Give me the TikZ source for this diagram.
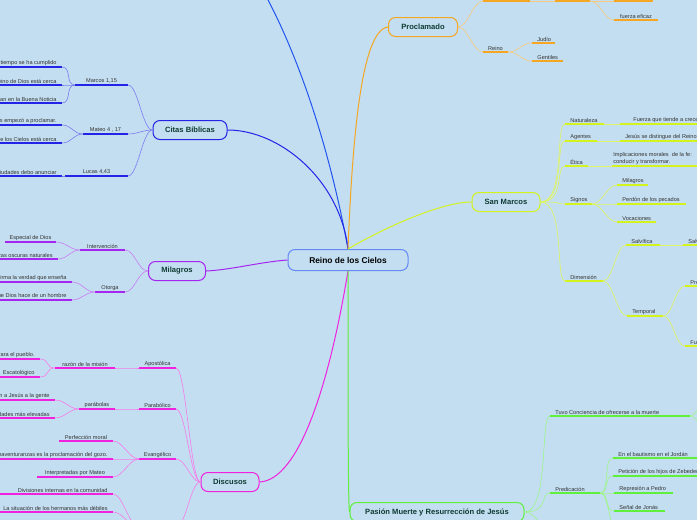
\documentclass[tikz,border=0pt]{standalone}
\usepackage{fontspec}
\setmainfont{Liberation Sans}
\definecolor{bg}{HTML}{C3DEF0}
\definecolor{kb}{HTML}{2424E8}
\definecolor{kbt}{HTML}{2255F0}
\definecolor{kmil}{HTML}{A526F0}
\definecolor{kdis}{HTML}{F022E0}
\definecolor{kg}{HTML}{5EF03A}
\definecolor{ky}{HTML}{D4F21E}
\definecolor{ko}{HTML}{F5A623}
\definecolor{tx}{HTML}{333333}
\definecolor{tb}{HTML}{0E3B33}
\newcommand\tp[6]{\coordinate (#1-l) at (#2,#4);\coordinate (#1-r) at (#3,#4);
 \draw[#5,line width=1.6pt] (#1-l) -- (#1-r);
 \node[lbl,anchor=south] (#1) at ({(#2+#3)/2},#4) {#6};}
\newcommand\tpr[6]{\coordinate (#1-l) at (#2,#4);\coordinate (#1-r) at (#3,#4);
 \draw[#5,line width=1.6pt] (#1-l) -- (#1-r);
 \node[lbl,anchor=south east] (#1) at ({#3-4},#4) {#6};}
\newcommand\tpl[6]{\coordinate (#1-l) at (#2,#4);\coordinate (#1-r) at (#3,#4);
 \draw[#5,line width=1.6pt] (#1-l) -- (#1-r);
 \node[lbl,anchor=south west] (#1) at ({#2+4},#4) {#6};}
\newcommand\conR[3]{\draw[#3,line width=0.6pt] (#1) .. controls +(10,0) and +(-10,0) .. (#2);}
\newcommand\conL[3]{\draw[#3,line width=0.6pt] (#1) .. controls +(-10,0) and +(10,0) .. (#2);}
\begin{document}
\begin{tikzpicture}[x=1pt,y=-1pt,
  lbl/.style={font=\fontsize{5.6}{6.8}\selectfont,text=tx,inner sep=1.2pt},
  box/.style={draw,line width=1pt,rounded corners=7pt,fill=bg,text=tb,font=\fontsize{7.6}{9}\selectfont\bfseries,minimum height=19pt,inner sep=2pt}]
\fill[bg] (0,0) rectangle (697,520);
\clip (0,0) rectangle (697,520);
% center
\node[box,draw=kbt!70!white,text=black,minimum width=120pt,minimum height=21pt,font=\fontsize{8.4}{10}\selectfont\bfseries] (c) at (348,260) {Reino de los Cielos};
\node[box,draw=kb,minimum width=74pt] (cit) at (190,130) {Citas Bíblicas};
\node[box,draw=kmil,minimum width=57pt] (mil) at (177,271) {Milagros};
\node[box,draw=kdis,minimum width=58pt] (dis) at (230,482) {Discusos};
\node[box,draw=ko,minimum width=69pt] (pro) at (423,27) {Proclamado};
\node[box,draw=ky,minimum width=68pt] (sm) at (506,202) {San Marcos};
\node[box,draw=kg,minimum width=174pt] (pas) at (437,512) {Pasión Muerte y Resurrección de Jesús};
\coordinate (top) at (266,-4);
% center connectors
\draw[kbt,line width=1pt] (c.north) .. controls (330,150) and (300,60) .. (top);
\draw[kb,line width=1pt] (c.north) .. controls (340,180) and (280,130) .. (cit.east);
\draw[kmil,line width=1pt] (c.west) .. controls (260,262) and (230,270) .. (mil.east);
\draw[kdis,line width=1pt] (c.south) .. controls (330,380) and (300,480) .. (dis.east);
\draw[ko,line width=1pt] (c.north) .. controls (352,150) and (360,30) .. (pro.west);
\draw[ky,line width=1pt] (c.north) .. controls (380,230) and (440,202) .. (sm.west);
\draw[kg,line width=1pt] (c.south) .. controls (348,400) and (348,500) .. (pas.west);
% Citas
\tp{mar}{75}{128}{85}{kb}{Marcos 1,15}
\tpr{m1}{0}{62}{67}{kb}{El tiempo se ha cumplido}
\tpr{m2}{0}{62}{85}{kb}{El Reino de Dios está cerca}
\tpr{m3}{0}{62}{103}{kb}{Crean en la Buena Noticia}
\tp{mat}{83}{128}{134}{kb}{Mateo 4 , 17}
\tpr{t1}{0}{62}{125}{kb}{Jesús empezó a proclamar.}
\tpr{t2}{0}{62}{143}{kb}{El Reino de los Cielos está cerca}
\tp{luc}{65}{128}{176}{kb}{Lucas 4,43}
\tpr{l1}{0}{62}{176}{kb}{También a otras ciudades debo anunciar}
\foreach \a in {mar,mat,luc}{\conL{cit.west}{\a-r}{kb!60!white}}
\foreach \a in {m1,m2,m3}{\conL{mar-l}{\a-r}{kb!60!white}}
\foreach \a in {t1,t2}{\conL{mat-l}{\a-r}{kb!60!white}}
\conL{luc-l}{l1-r}{kb!60!white}
% Milagros
\tp{int}{80}{125}{250}{kmil}{Intervención}
\tp{i1}{5}{56}{242}{kmil}{Especial de Dios}
\tpr{i2}{0}{58}{259}{kmil}{Fuerzas oscuras naturales}
\tp{oto}{95}{125}{292}{kmil}{Otorga}
\tpr{o1}{0}{72}{282}{kmil}{Confirma la verdad que enseña}
\tpr{o2}{0}{72}{300}{kmil}{Lo que Dios hace de un hombre}
\foreach \a in {int,oto}{\conL{mil.west}{\a-r}{kmil!60!white}}
\foreach \a in {i1,i2}{\conL{int-l}{\a-r}{kmil!60!white}}
\foreach \a in {o1,o2}{\conL{oto-l}{\a-r}{kmil!60!white}}
% Discusos
\tp{apo}{139}{176}{368}{kdis}{Apostólica}
\tp{par}{139}{176}{409}{kdis}{Parabólico}
\tp{eva}{139}{176}{459}{kdis}{Evangélico}
\tp{ecl}{139}{176}{527}{kdis}{Eclesiástico}
\tp{raz}{55}{115}{368}{kdis}{razón de la misión}
\tpr{r1}{0}{40}{359}{kdis}{Para el pueblo.}
\tpr{r2}{0}{40}{377}{kdis}{Escatológico}
\tp{pab}{79}{115}{409}{kdis}{parábolas}
\tpr{p1}{0}{55}{400}{kdis}{Acercan a Jesús a la gente}
\tpr{p2}{0}{55}{418}{kdis}{Verdades más elevadas}
\tp{e1}{59}{113}{441}{kdis}{Perfección moral}
\tpr{e2}{0}{113}{459}{kdis}{Las bienaventuranzas es la proclamación del gozo.}
\tp{e3}{37}{113}{477}{kdis}{Interpretadas por Mateo}
\tpr{c1}{0}{113}{494}{kdis}{Divisiones internas en la comunidad}
\tpr{c2}{0}{113}{512}{kdis}{La situación de los hermanos más débiles}
\foreach \a in {apo,par,eva,ecl}{\conL{dis.west}{\a-r}{kdis!60!white}}
\conL{apo-l}{raz-r}{kdis!60!white}
\conL{par-l}{pab-r}{kdis!60!white}
\foreach \a in {r1,r2}{\conL{raz-l}{\a-r}{kdis!60!white}}
\foreach \a in {p1,p2}{\conL{pab-l}{\a-r}{kdis!60!white}}
\foreach \a in {e1,e2,e3}{\conL{eva-l}{\a-r}{kdis!60!white}}
\foreach \a in {c1,c2}{\conL{ecl-l}{\a-r}{kdis!60!white}}
% Proclamado
\tp{pa}{483}{530}{1}{ko}{Jesús}
\tp{pb}{555}{590}{1}{ko}{Palabra}
\tp{pc}{614}{653}{1}{ko}{Poder}
\tp{pd}{614}{658}{20}{ko}{fuerza eficaz}
\tp{rei}{483}{508}{52}{ko}{Reino}
\tpl{ju}{532}{555}{43}{ko}{Judío}
\tpl{ge}{532}{563}{61}{ko}{Gentiles}
\foreach \a in {pa,rei}{\conR{pro.east}{\a-l}{ko!60!white}}
\draw[ko!60!white,line width=0.6pt] (pa-r) -- (pb-l) (pb-r) -- (pc-l);
\conR{pb-r}{pd-l}{ko!60!white}
\foreach \a in {ju,ge}{\conR{rei-r}{\a-l}{ko!60!white}}
% San Marcos
\tpl{nat}{565}{604}{124}{ky}{Naturaleza}
\tpl{n1}{620}{720}{124}{ky}{\hspace*{8pt}Fuerza que tiende a crecer}
\tpl{age}{565}{597}{141}{ky}{Agentes}
\tpl{a1}{620}{720}{141}{ky}{Jesús se distingue del Reino}
\tpl{eti}{565}{588}{166}{ky}{Ética}
\coordinate (et1-l) at (612,166);\coordinate (et1-r) at (720,166);
\draw[ky,line width=1.6pt] (et1-l) -- (et1-r);
\node[lbl,anchor=south west,align=left] (et1) at (612,166) {Implicaciones morales \ de la fe:\\conducir y transformar.};
\tpl{sig}{565}{592}{204}{ky}{Signos}
\tpl{s1}{617}{648}{185}{ky}{Milagros}
\tpl{s2}{617}{686}{204}{ky}{Perdón de los pecados}
\tpl{s3}{617}{656}{222}{ky}{Vocaciones}
\tpl{dim}{565}{603}{281}{ky}{Dimensión}
\tpl{sal}{626}{660}{245}{ky}{Salvífica}
\tpl{sa1}{683}{720}{245}{ky}{Salvación}
\tpl{tem}{627}{663}{316}{ky}{Temporal}
\tpl{te1}{685}{720}{286}{ky}{Presente}
\tpl{te2}{685}{720}{346}{ky}{Futuro}
\foreach \a in {nat,age,eti,sig,dim}{\draw[ky!70!white,line width=0.6pt] (sm.east) .. controls +(25,0) and +(-10,0) .. (\a-l);}
\draw[ky!70!white,line width=0.6pt] (nat-r) -- (n1-l) (age-r) -- (a1-l) (eti-r) -- (et1-l) (sal-r) -- (sa1-l);
\foreach \a in {s1,s2,s3}{\conR{sig-r}{\a-l}{ky!70!white}}
\foreach \a in {sal,tem}{\conR{dim-r}{\a-l}{ky!70!white}}
\foreach \a in {te1,te2}{\conR{tem-r}{\a-l}{ky!70!white}}
% Pasion
\tpl{tuv}{550}{690}{416}{kg}{Tuvo Conciencia de ofrecerse a la muerte}
\coordinate (tu1) at (712,388);\coordinate (tu2) at (712,440);
\conR{tuv-r}{tu1}{kg!60!white}\conR{tuv-r}{tu2}{kg!60!white}
\tpl{pre}{550}{600}{493}{kg}{Predicación}
\tpl{q1}{613}{720}{458}{kg}{En el bautismo en el Jordán}
\tpl{q2}{613}{720}{476}{kg}{Petición de los hijos de Zebedeo}
\tpl{q3}{614}{673}{493}{kg}{Represión a Pedro}
\tpl{q4}{614}{665}{511}{kg}{Señal de Jonás}
\coordinate (q5) at (620,540);
\foreach \a in {tuv,pre}{\draw[kg!60!white,line width=0.6pt] (pas.east) .. controls +(25,0) and +(-10,0) .. (\a-l);}
\draw[kg!60!white,line width=0.6pt] (pas.east) .. controls +(15,0) and +(-5,0) .. (550,540);
\foreach \a in {q1-l,q2-l,q3-l,q4-l,q5}{\conR{pre-r}{\a}{kg!60!white}}
\end{tikzpicture}
\end{document}
